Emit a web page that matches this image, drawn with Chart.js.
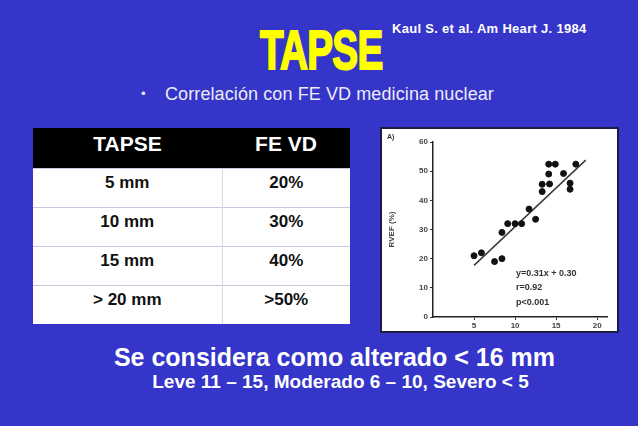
<!DOCTYPE html>
<html>
<head>
<meta charset="utf-8">
<script src="https://cdn.jsdelivr.net/npm/chart.js@4.4.1/dist/chart.umd.min.js"></script>
<style>
  html, body { margin: 0; padding: 0; }
  body { width: 638px; height: 426px; background: #3535c9; position: relative; overflow: hidden;
         font-family: "Liberation Sans", Arial, sans-serif; }
  .abs { position: absolute; white-space: nowrap; }
  #titulo { left: 260px; top: 22px; color: #ffff00; font-family: "Liberation Sans", sans-serif;
            font-weight: bold; font-size: 56px; line-height: 56px; transform: scale(0.69, 1); transform-origin: 0 0;
            -webkit-text-stroke: 2px #ffff00; letter-spacing: -1px; }
  #ref { left: 392px; top: 21px; color: #fff; font-weight: bold; font-size: 13px; letter-spacing: 0.3px; }
  #bullet { left: 141px; top: 84px; color: #ececf6; font-size: 18px; letter-spacing: 0.1px; }
  #bullet span { display: inline-block; width: 24px; font-size: 13px; vertical-align: 2px; }
  #tabela { left: 33px; top: 128px; width: 317px; border-collapse: collapse; }
  #tabela td, #tabela th { padding: 0; text-align: center; font-weight: bold; box-sizing: border-box; }
  #tabela th { background: #000; color: #fff; height: 40px; font-size: 21px; vertical-align: top; padding-top: 4px; }
  #tabela td { background: #fff; color: #111; height: 39px; font-size: 17px; border-top: 1px solid #c9c9de;
               vertical-align: top; padding-top: 4px; }
  #tabela td + td { border-left: 1px solid #d8d8e6; }
  #caixa { left: 380px; top: 127px; width: 235px; height: 202px; border: 2px solid #1c1c40; background: #fff; }
  #rodape1 { left: 0; width: 669px; text-align: center; top: 343px; color: #fff; font-weight: bold; font-size: 25px; }
  #rodape2 { left: 0; width: 681px; text-align: center; top: 371px; color: #fff; font-weight: bold; font-size: 19px; }
</style>
</head>
<body>
<div id="titulo" class="abs">TAPSE</div>
<div id="ref" class="abs">Kaul S. et al. Am Heart J. 1984</div>
<div id="bullet" class="abs"><span>•</span>Correlación con FE VD medicina nuclear</div>
<table id="tabela" class="abs">
  <thead><tr><th style="width:189px">TAPSE</th><th>FE VD</th></tr></thead>
  <tbody id="corpo"></tbody>
</table>
<div id="caixa" class="abs"><canvas id="rvefChart" width="235" height="202"></canvas></div>
<div id="rodape1" class="abs">Se considera como alterado &lt; 16 mm</div>
<div id="rodape2" class="abs">Leve 11 – 15, Moderado 6 – 10, Severo &lt; 5</div>

<script>
// Tabela TAPSE x FE VD
const tapseLinhas = ['5 mm', '10 mm', '15 mm', '> 20 mm'];
const fevdLinhas = ['20%', '30%', '40%', '>50%'];

// Dispersão (Kaul et al.)
const tapseMm = [5, 5.9, 7.5, 8.4, 8.4, 9.1, 10, 10.8, 11.7, 12.5, 13.3, 13.3, 14.1, 14.9, 14.1, 14.2, 15.9, 16.7, 16.7, 17.4];
const rvefPct = [21, 22, 19, 20, 29, 32, 32, 32, 37, 33.5, 43, 45.5, 52.4, 52.4, 49, 45.6, 49.2, 45.9, 43.8, 52.4];
const retaX = [5, 18.6];
const retaY = [17.7, 53.8];
const xTicks = [5, 10, 15, 20];
const anotacoes = ['y=0.31x + 0.30', 'r=0.92', 'p<0.001'];

document.addEventListener('DOMContentLoaded', function() {
    montarTabela();
    desenharGrafico();
});

function montarTabela() {
    let html = '';
    tapseLinhas.forEach((t, i) => {
        html += `<tr><td>${t.replace('>', '&gt;')}</td><td>${fevdLinhas[i].replace('>', '&gt;')}</td></tr>`;
    });
    document.getElementById('corpo').innerHTML = html;
}

function desenharGrafico() {
    const ctx = document.getElementById('rvefChart').getContext('2d');
    const fonteEixo = { family: 'Liberation Sans', size: 8, weight: 'bold' };

    // textos dentro do gráfico
    const textosPlugin = {
        id: 'textos',
        afterDraw(chart) {
            const c = chart.ctx;
            const xs = chart.scales.x, ys = chart.scales.y;
            c.save();
            c.fillStyle = '#333';
            c.font = 'bold 7px "Liberation Sans"';
            c.textBaseline = 'middle';
            c.fillText('A)', 5, 8);
            c.font = 'bold 9px "Liberation Sans"';
            const x0 = xs.getPixelForValue(10.1);
            [14.8, 10, 4.9].forEach((v, i) => {
                c.fillText(anotacoes[i], x0, ys.getPixelForValue(v));
            });
            c.restore();
        }
    };

    new Chart(ctx, {
        type: 'scatter',
        data: {
            datasets: [{
                data: tapseMm.map((x, i) => ({ x: x, y: rvefPct[i] })),
                backgroundColor: '#111',
                borderColor: '#111',
                pointRadius: 3
            }, {
                type: 'line',
                data: retaX.map((x, i) => ({ x: x, y: retaY[i] })),
                borderColor: '#3a3a3a',
                borderWidth: 1.5,
                pointRadius: 0,
                fill: false
            }]
        },
        options: {
            responsive: false,
            animation: false,
            devicePixelRatio: 1,
            layout: { padding: { top: 13, right: 10, left: 0, bottom: 0 } },
            plugins: { legend: { display: false }, tooltip: { enabled: false } },
            scales: {
                x: {
                    type: 'linear',
                    min: 0,
                    max: 21.2,
                    afterBuildTicks: function(scale) {
                        scale.ticks = xTicks.map(v => ({ value: v }));
                    },
                    afterFit: function(scale) { scale.height = 14; },
                    ticks: { font: fonteEixo, color: '#444', padding: 1 },
                    grid: { drawOnChartArea: false, tickLength: 3, color: '#333' },
                    border: { color: '#222', width: 1.5 }
                },
                y: {
                    min: 0,
                    max: 60,
                    afterFit: function(scale) { scale.width = 51; },
                    ticks: { stepSize: 10, font: fonteEixo, color: '#444', padding: 2 },
                    grid: { drawOnChartArea: false, tickLength: 3, color: '#333' },
                    border: { color: '#222', width: 1.5 },
                    title: { display: true, text: 'RVEF (%)', font: fonteEixo, color: '#444', padding: { top: 5, bottom: 0 } }
                }
            }
        },
        plugins: [textosPlugin]
    });
}
</script>
</body>
</html>
